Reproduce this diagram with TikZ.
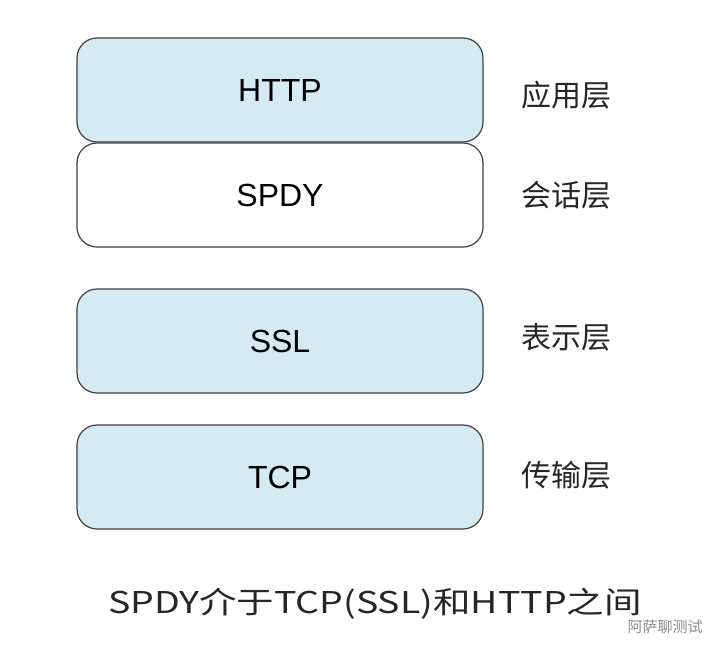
\documentclass[tikz,border=0pt]{standalone}
\usepackage{fontspec}
\setmainfont{Liberation Sans}
\newfontfamily\cjk{Noto Sans CJK SC}
\begin{document}
\begin{tikzpicture}[x=1pt,y=-1pt,
  layer/.style={draw=black!75,line width=1.2pt,rounded corners=20pt,minimum width=406pt,minimum height=104pt,font=\fontsize{32}{36}\selectfont},
  lab/.style={font=\cjk\fontsize{30}{34}\selectfont,text=black!85}]
\useasboundingbox (0,0) rectangle (708,656);
\fill[white] (0,0) rectangle (708,656);
\node[layer,fill={rgb,255:red,214;green,234;blue,244}] (http) at (280,90) {HTTP};
\node[layer,fill=white] (spdy) at (280,195) {SPDY};
\node[layer,fill={rgb,255:red,214;green,234;blue,244}] (ssl) at (280,341) {SSL};
\node[layer,fill={rgb,255:red,214;green,234;blue,244}] (tcp) at (280,477) {TCP};
\node[lab] (l1) at (566,95) {应用层};
\node[lab] (l2) at (566,195) {会话层};
\node[lab] (l3) at (566,337) {表示层};
\node[lab] (l4) at (566,475) {传输层};
\node[font=\cjk\fontsize{30}{34}\selectfont,text=black!85] (cap) at (375,604) {\scalebox{1.25}[1]{SPDY介于TCP(SSL)和HTTP之间}};
\node[font=\cjk\fontsize{15}{18}\selectfont,text=black!45] (wm) at (665,627) {阿萨聊测试};
\end{tikzpicture}
\end{document}
